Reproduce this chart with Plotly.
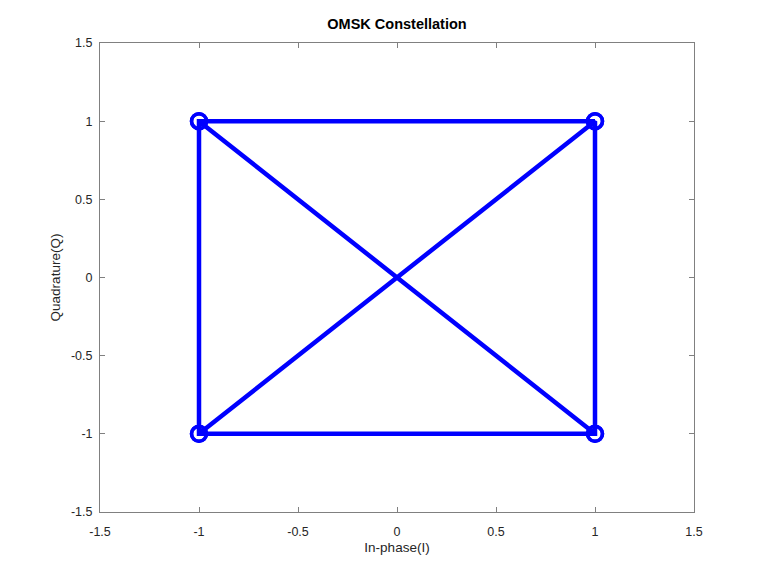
import plotly.graph_objects as go

# Path through constellation points (I, Q)
i_vals = [1, -1, -1, 1, 1, -1, -1, 1]
q_vals = [1, 1, -1, -1, 1, -1, 1, -1]

tick_vals = [-1.5, -1, -0.5, 0, 0.5, 1, 1.5]
tick_text = ["-1.5", "-1", "-0.5", "0", "0.5", "1", "1.5"]

fig = go.Figure()
fig.add_trace(go.Scatter(
    x=i_vals, y=q_vals, mode="lines+markers",
    line=dict(color="#0000ff", width=4.5),
    marker=dict(symbol="circle-open", size=15, color="#0000ff", line=dict(width=3.5, color="#0000ff")),
    showlegend=False, hoverinfo="skip",
))

axis_common = dict(
    range=[-1.5, 1.5], tickvals=tick_vals, ticktext=tick_text,
    showgrid=False, zeroline=False, showline=True, linecolor="#808080", linewidth=1,
    mirror="ticks", ticks="inside", ticklen=5, tickcolor="#808080",
    tickfont=dict(family="Liberation Sans, Arial, sans-serif", size=12.5, color="#262626"),
)

fig.update_layout(
    width=768, height=576,
    margin=dict(l=92, r=82, t=35, b=72),
    paper_bgcolor="white", plot_bgcolor="white",
    title=dict(text="<b>OMSK Constellation</b>", x=(92 + 686) / 2 / 768, xanchor="center",
               y=1 - 16/576, yanchor="middle",
               font=dict(family="Liberation Sans, Arial, sans-serif", size=14.5, color="black")),
    xaxis=dict(**axis_common, ticklabelstandoff=8, title=dict(text="In-phase(I)", standoff=4,
               font=dict(family="Liberation Sans, Arial, sans-serif", size=13.5, color="#262626"))),
    yaxis=dict(**axis_common, ticklabelstandoff=4, title=dict(text="Quadrature(Q)", standoff=7,
               font=dict(family="Liberation Sans, Arial, sans-serif", size=13.5, color="#262626"))),
)

fig.write_html("out.html")
